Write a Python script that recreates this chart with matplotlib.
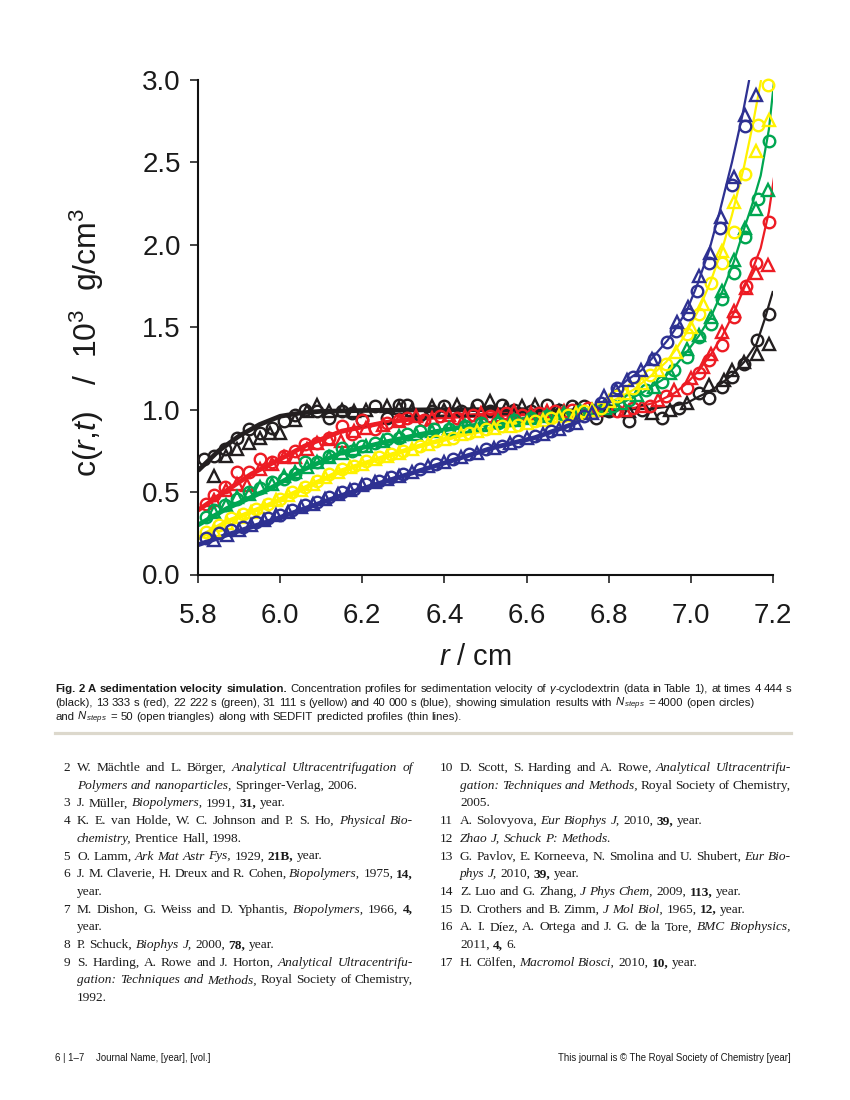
import numpy as np
import matplotlib
matplotlib.use("Agg")
import matplotlib.pyplot as plt
from matplotlib.transforms import IdentityTransform
from matplotlib.lines import Line2D

plt.rcParams['font.family'] = ['Liberation Sans', 'DejaVu Sans']
plt.rcParams['mathtext.fontset'] = 'custom'
plt.rcParams['mathtext.rm'] = 'Liberation Sans'
plt.rcParams['mathtext.it'] = 'Liberation Sans:italic'
plt.rcParams['mathtext.bf'] = 'Liberation Sans:bold'

# ---------------- data ----------------
series_labels = ['4 444 s', '13 333 s', '22 222 s', '31 111 s', '40 000 s']
series_colors = ['#231f20', '#ed1c24', '#00a651', '#fff200', '#2e3192']

# SEDFIT profiles (thin lines)
black_line_r = [5.80,5.85,5.90,5.95,6.00,6.05,6.10,6.20,6.40,6.60,6.80,6.90,6.95,6.99,7.02,7.045,7.075,7.10,7.13,7.16,7.18,7.20]
black_line_c = [0.63,0.75,0.84,0.91,0.96,0.98,0.99,0.995,1.00,1.00,1.00,1.005,1.02,1.04,1.08,1.11,1.16,1.21,1.29,1.40,1.55,1.72]
red_line_r = [5.80,5.87,5.93,6.00,6.06,6.15,6.25,6.34,6.52,6.71,6.80,6.84,6.88,6.92,6.96,6.99,7.02,7.05,7.077,7.105,7.13,7.15,7.17,7.19,7.205]
red_line_c = [0.39,0.51,0.61,0.70,0.78,0.87,0.92,0.95,0.97,0.98,0.99,1.00,1.02,1.05,1.10,1.16,1.24,1.34,1.45,1.59,1.74,1.85,1.98,2.20,2.45]
green_line_r = [5.80,5.87,5.97,6.06,6.15,6.25,6.34,6.43,6.52,6.62,6.71,6.77,6.80,6.84,6.88,6.93,6.96,6.99,7.02,7.05,7.077,7.105,7.13,7.15,7.17,7.19,7.203]
green_line_c = [0.30,0.40,0.515,0.64,0.74,0.80,0.85,0.89,0.92,0.95,0.98,0.995,1.02,1.05,1.10,1.18,1.26,1.35,1.45,1.57,1.72,1.90,2.10,2.25,2.42,2.70,3.00]
yellow_line_r = [5.80,5.87,5.97,6.06,6.15,6.25,6.34,6.43,6.52,6.62,6.71,6.77,6.80,6.86,6.91,6.94,6.965,6.99,7.02,7.05,7.077,7.10,7.13,7.15,7.171]
yellow_line_c = [0.22,0.32,0.42,0.525,0.63,0.71,0.78,0.84,0.89,0.93,0.97,0.995,1.04,1.12,1.22,1.29,1.37,1.47,1.61,1.79,1.98,2.18,2.48,2.72,3.00]
blue_line_r = [5.80,5.87,5.97,6.06,6.15,6.25,6.34,6.43,6.52,6.62,6.71,6.77,6.79,6.845,6.88,6.905,6.943,6.965,6.99,7.016,7.045,7.07,7.10,7.125,7.142]
blue_line_c = [0.18,0.24,0.32,0.40,0.48,0.56,0.63,0.70,0.77,0.83,0.91,0.99,1.06,1.18,1.24,1.31,1.42,1.50,1.60,1.76,1.97,2.20,2.50,2.78,3.00]

# N_steps = 4000 (open circles)
black_circ_r = [5.815,5.84,5.865,5.896,5.924,5.95,5.98,6.01,6.035,6.06,6.09,6.12,6.15,6.175,6.20,6.23,6.26,6.29,6.31,6.34,6.37,6.40,6.44,6.48,6.51,6.54,6.57,6.61,6.65,6.68,6.71,6.74,6.77,6.80,6.85,6.88,6.93,6.97,7.02,7.045,7.075,7.10,7.13,7.16,7.19]
black_circ_c = [0.70,0.72,0.76,0.83,0.88,0.86,0.89,0.93,0.97,1.00,0.99,0.95,0.99,0.98,0.94,1.02,0.95,1.03,1.03,0.97,0.99,1.02,0.99,1.03,0.99,1.03,1.00,0.99,1.03,1.00,1.02,1.02,0.95,0.99,0.93,1.00,0.95,1.01,1.10,1.07,1.14,1.20,1.28,1.42,1.58]
red_circ_r = [5.82,5.84,5.865,5.896,5.924,5.95,5.98,6.01,6.035,6.06,6.09,6.12,6.15,6.175,6.20,6.23,6.26,6.29,6.31,6.35,6.39,6.43,6.47,6.51,6.55,6.59,6.63,6.67,6.71,6.75,6.78,6.82,6.86,6.90,6.94,6.99,7.02,7.045,7.077,7.105,7.134,7.158,7.191]
red_circ_c = [0.43,0.48,0.53,0.62,0.62,0.70,0.68,0.72,0.75,0.79,0.80,0.83,0.90,0.85,0.94,0.88,0.92,0.94,0.95,0.94,0.96,0.95,0.97,0.96,0.98,0.97,0.98,0.99,1.00,1.01,1.01,0.99,1.01,1.02,1.08,1.13,1.22,1.30,1.39,1.56,1.75,1.89,2.14]
green_circ_r = [5.82,5.84,5.865,5.896,5.924,5.95,5.98,6.01,6.035,6.06,6.09,6.12,6.15,6.175,6.20,6.23,6.26,6.29,6.31,6.34,6.375,6.41,6.45,6.49,6.53,6.57,6.61,6.65,6.69,6.73,6.77,6.81,6.85,6.89,6.93,6.96,6.99,7.02,7.05,7.077,7.104,7.132,7.163,7.191]
green_circ_c = [0.35,0.39,0.42,0.46,0.50,0.525,0.56,0.58,0.61,0.68,0.68,0.72,0.77,0.75,0.78,0.80,0.82,0.83,0.85,0.87,0.88,0.88,0.90,0.92,0.92,0.94,0.95,0.96,0.97,0.99,1.00,1.02,1.06,1.12,1.17,1.24,1.32,1.44,1.52,1.67,1.83,2.05,2.28,2.63]
yellow_circ_r = [5.82,5.85,5.88,5.91,5.94,5.97,6.00,6.03,6.06,6.09,6.12,6.15,6.18,6.21,6.24,6.27,6.30,6.34,6.38,6.42,6.46,6.50,6.54,6.58,6.62,6.66,6.70,6.74,6.78,6.82,6.86,6.90,6.94,6.99,7.02,7.05,7.077,7.104,7.132,7.163,7.187]
yellow_circ_c = [0.26,0.30,0.34,0.37,0.40,0.43,0.46,0.50,0.53,0.57,0.61,0.64,0.66,0.69,0.71,0.73,0.75,0.78,0.81,0.83,0.86,0.88,0.90,0.91,0.93,0.95,0.97,0.99,1.01,1.08,1.13,1.21,1.28,1.46,1.58,1.77,1.89,2.08,2.43,2.73,2.97]
blue_circ_r = [5.82,5.85,5.88,5.91,5.94,5.97,6.00,6.03,6.06,6.09,6.12,6.15,6.18,6.21,6.24,6.27,6.30,6.34,6.38,6.42,6.46,6.50,6.54,6.58,6.62,6.66,6.70,6.74,6.78,6.82,6.86,6.91,6.943,6.963,6.992,7.016,7.045,7.07,7.10,7.132]
blue_circ_c = [0.22,0.25,0.27,0.29,0.32,0.34,0.36,0.39,0.42,0.44,0.47,0.50,0.52,0.55,0.57,0.59,0.61,0.64,0.67,0.70,0.73,0.76,0.78,0.81,0.84,0.87,0.91,0.96,1.04,1.13,1.20,1.31,1.41,1.48,1.58,1.72,1.89,2.10,2.36,2.72]

# N_steps = 50 (open triangles)
black_tri_r = [5.84,5.868,5.896,5.924,5.95,5.975,6.00,6.035,6.065,6.09,6.12,6.15,6.18,6.21,6.26,6.29,6.32,6.37,6.40,6.43,6.47,6.51,6.55,6.59,6.62,6.68,6.72,6.76,6.80,6.85,6.905,6.95,6.99,7.045,7.08,7.10,7.13,7.16,7.19]
black_tri_c = [0.60,0.72,0.76,0.80,0.83,0.86,0.86,0.94,0.99,1.03,0.99,1.00,0.99,1.00,1.02,1.01,1.00,1.02,1.00,1.03,1.00,1.05,1.01,1.02,1.03,0.99,1.00,1.00,1.00,0.99,0.98,1.00,1.04,1.15,1.18,1.24,1.29,1.34,1.40]
red_tri_r = [5.84,5.868,5.896,5.92,5.95,5.98,6.01,6.035,6.065,6.09,6.12,6.147,6.18,6.21,6.25,6.29,6.33,6.37,6.41,6.45,6.49,6.53,6.57,6.61,6.65,6.69,6.73,6.77,6.84,6.88,6.92,6.96,7.00,7.03,7.05,7.077,7.105,7.134,7.158,7.187]
red_tri_c = [0.45,0.51,0.55,0.54,0.64,0.67,0.71,0.71,0.76,0.80,0.82,0.81,0.87,0.89,0.91,0.93,0.96,0.95,0.97,0.96,0.98,0.97,0.99,0.98,0.99,0.99,0.99,1.00,1.00,1.02,1.06,1.12,1.19,1.26,1.34,1.47,1.60,1.74,1.83,1.88]
green_tri_r = [5.84,5.868,5.896,5.924,5.95,5.98,6.01,6.035,6.065,6.09,6.12,6.15,6.18,6.21,6.25,6.29,6.33,6.37,6.41,6.45,6.49,6.53,6.57,6.61,6.65,6.69,6.73,6.79,6.83,6.87,6.91,6.95,6.99,7.02,7.05,7.077,7.106,7.132,7.158,7.187]
green_tri_c = [0.38,0.42,0.47,0.49,0.53,0.55,0.60,0.62,0.65,0.68,0.71,0.74,0.76,0.78,0.81,0.84,0.85,0.87,0.89,0.90,0.91,0.93,0.94,0.95,0.96,0.98,0.99,1.01,1.04,1.09,1.14,1.22,1.37,1.45,1.56,1.72,1.91,2.10,2.22,2.33]
yellow_tri_r = [5.84,5.87,5.90,5.93,5.96,5.99,6.02,6.05,6.08,6.11,6.14,6.17,6.20,6.23,6.26,6.29,6.32,6.36,6.40,6.44,6.48,6.52,6.56,6.60,6.64,6.68,6.72,6.76,6.80,6.84,6.88,6.92,6.965,7.00,7.03,7.077,7.106,7.158,7.191]
yellow_tri_c = [0.27,0.31,0.35,0.38,0.41,0.45,0.48,0.51,0.55,0.59,0.62,0.65,0.67,0.70,0.72,0.74,0.76,0.79,0.82,0.85,0.87,0.89,0.90,0.92,0.94,0.96,0.98,1.00,1.05,1.10,1.16,1.24,1.35,1.50,1.64,1.96,2.26,2.57,2.76]
blue_tri_r = [5.84,5.87,5.90,5.93,5.96,5.99,6.02,6.05,6.08,6.11,6.14,6.17,6.20,6.23,6.26,6.29,6.32,6.36,6.40,6.44,6.48,6.52,6.56,6.60,6.64,6.68,6.72,6.76,6.789,6.817,6.845,6.878,6.906,6.967,6.992,7.02,7.047,7.073,7.106,7.132,7.158]
blue_tri_c = [0.21,0.24,0.27,0.30,0.33,0.36,0.38,0.41,0.43,0.46,0.49,0.51,0.54,0.56,0.58,0.60,0.62,0.66,0.68,0.71,0.74,0.77,0.80,0.83,0.85,0.88,0.92,0.98,1.08,1.12,1.18,1.24,1.31,1.53,1.62,1.81,1.95,2.17,2.41,2.79,2.91]

x_ticks = [5.8, 6.0, 6.2, 6.4, 6.6, 6.8, 7.0, 7.2]
y_ticks = [0.0, 0.5, 1.0, 1.5, 2.0, 2.5, 3.0]

lines = [(black_line_r, black_line_c), (red_line_r, red_line_c), (green_line_r, green_line_c),
         (yellow_line_r, yellow_line_c), (blue_line_r, blue_line_c)]
circs = [(black_circ_r, black_circ_c), (red_circ_r, red_circ_c), (green_circ_r, green_circ_c),
         (yellow_circ_r, yellow_circ_c), (blue_circ_r, blue_circ_c)]
tris = [(black_tri_r, black_tri_c), (red_tri_r, red_tri_c), (green_tri_r, green_tri_c),
        (yellow_tri_r, yellow_tri_c), (blue_tri_r, blue_tri_c)]

caption_lines = [
    "#Fig. 2 A sedimentation velocity simulation#. Concentration profiles for sedimentation velocity of |γ|-cyclodextrin (data in Table 1), at times 4 444 s",
    "(black), 13 333 s (red), 22 222 s (green), 31 111 s (yellow) and 40 000 s (blue), showing simulation results with $N_{\\,steps}$ = 4000 (open circles)",
    "and $N_{\\,steps}$ = 50 (open triangles) along with SEDFIT predicted profiles (thin lines).",
]

refs_left = [
    ("2", "W. Mächtle and L. Börger, |Analytical Ultracentrifugation of|", True),
    (None, "|Polymers and nanoparticles|, Springer-Verlag, 2006.", False),
    ("3", "J. Müller, |Biopolymers|, 1991, #31#, year.", False),
    ("4", "K. E. van Holde, W. C. Johnson and P. S. Ho, |Physical Bio-|", True),
    (None, "|chemistry|, Prentice Hall, 1998.", False),
    ("5", "O. Lamm, |Ark Mat Astr Fys|, 1929, #21B#, year.", False),
    ("6", "J. M. Claverie, H. Dreux and R. Cohen, |Biopolymers|, 1975, #14#,", True),
    (None, "year.", False),
    ("7", "M. Dishon, G. Weiss and D. Yphantis, |Biopolymers|, 1966, #4#,", True),
    (None, "year.", False),
    ("8", "P. Schuck, |Biophys J|, 2000, #78#, year.", False),
    ("9", "S. Harding, A. Rowe and J. Horton, |Analytical Ultracentrifu-|", True),
    (None, "|gation: Techniques and Methods|, Royal Society of Chemistry,", True),
    (None, "1992.", False),
]
refs_right = [
    ("10", "D. Scott, S. Harding and A. Rowe, |Analytical Ultracentrifu-|", True),
    (None, "|gation: Techniques and Methods|, Royal Society of Chemistry,", True),
    (None, "2005.", False),
    ("11", "A. Solovyova, |Eur Biophys J|, 2010, #39#, year.", False),
    ("12", "|Zhao J, Schuck P: Methods.|", False),
    ("13", "G. Pavlov, E. Korneeva, N. Smolina and U. Shubert, |Eur Bio-|", True),
    (None, "|phys J|, 2010, #39#, year.", False),
    ("14", "Z. Luo and G. Zhang, |J Phys Chem|, 2009, #113#, year.", False),
    ("15", "D. Crothers and B. Zimm, |J Mol Biol|, 1965, #12#, year.", False),
    ("16", "A. I. Díez, A. Ortega and J. G. de la Tore, |BMC Biophysics|,", True),
    (None, "2011, #4#, 6.", False),
    ("17", "H. Cölfen, |Macromol Biosci|, 2010, #10#, year.", False),
]

footer_left_a = "6 | 1–7"
footer_left_b = "Journal Name, [year], [vol.]"
footer_right = "This journal is © The Royal Society of Chemistry [year]"

# ---------------- figure ----------------
W, H = 850, 1100
fig = plt.figure(figsize=(8.5, 11), dpi=100)
fig.patch.set_facecolor('white')
renderer = fig.canvas.get_renderer()
ID = IdentityTransform()

ax = fig.add_axes([198 / W, (H - 574.5) / H, (773 - 198) / W, (574.5 - 80) / H])
for (lr, lc), col in zip(lines, series_colors):
    lr_a = np.array(lr); lc_a = np.array(lc)
    ax.plot(lr_a, lc_a, color=col, lw=1.6, zorder=2, solid_capstyle='butt')
    m = lr_a <= 6.78
    ax.plot(lr_a[m], lc_a[m], color=col, lw=3.4, zorder=2, solid_capstyle='butt')
for (cr, cc), (tr, tc), col in zip(circs, tris, series_colors):
    ax.plot(cr, cc, ls='none', marker='o', ms=8.3, mfc='none', mec=col, mew=1.7, clip_on=False, zorder=3)
    ax.plot(tr, tc, ls='none', marker='^', ms=8.6, mfc='none', mec=col, mew=1.7, clip_on=False, zorder=3)

ax.set_xlim(5.8, 7.2)
ax.set_ylim(0.0, 3.0)
ax.set_xticks(x_ticks)
ax.set_yticks(y_ticks)
ax.set_xticklabels([f"{v:.1f}" for v in x_ticks])
ax.set_yticklabels([f"{v:.1f}" for v in y_ticks])
for s in ['top', 'right']:
    ax.spines[s].set_visible(False)
for s in ['left', 'bottom']:
    ax.spines[s].set_linewidth(1.5)
    ax.spines[s].set_color('#111111')
ax.tick_params(axis='both', direction='out', length=5.5, width=1.1, colors='#111111', labelsize=20, labelcolor='#1a1a1a')
ax.tick_params(axis='x', pad=15)
ax.tick_params(axis='y', pad=7)
ax.patch.set_alpha(0)

fig.text(87, H - 342, "c($r$,$t$)   /  10$^{3}$  g/cm$^{3}$", transform=ID, rotation=90,
         ha='center', va='center', fontsize=23, color='#1a1a1a')
fig.text(475, H - 657, "$r$ / cm", transform=ID, ha='center', va='center', fontsize=21, color='#1a1a1a')

# ---------------- text layout helpers ----------------
PUNCT = set(',.:;')

def make_tokens(line):
    tokens = []
    ital = False
    bold = False
    for word in line.split(' '):
        if word == '':
            continue
        pieces = []
        cur = ''
        for ch in word:
            if ch in '|#':
                if cur:
                    pieces.append((cur, ital, bold))
                    cur = ''
                if ch == '|':
                    ital = not ital
                else:
                    bold = not bold
            else:
                cur += ch
        if cur:
            pieces.append((cur, ital, bold))
        merged = []
        for p in pieces:
            if merged and all(c in PUNCT for c in p[0]):
                q = merged[-1]
                merged[-1] = (q[0] + p[0], q[1], q[2])
            else:
                merged.append(p)
        if merged:
            tokens.append(merged)
    return tokens

def text_width(s, **kw):
    t = fig.text(0, 0, s, transform=ID, **kw)
    w = t.get_window_extent(renderer).width
    t.remove()
    return w

def adv_width(s, **kw):
    if '$' in s:
        return text_width(s, **kw)
    return text_width('I' + s + 'I', **kw) - text_width('II', **kw)

def draw_line(x0, ybase, line, family, size, color, width=None, draw=True):
    tokens = make_tokens(line)
    kw0 = dict(family=family, fontsize=size, color=color)
    em = size * 100 / 72.0
    space = text_width('I I', **kw0) - text_width('II', **kw0)
    widths = []
    for tok in tokens:
        tw = []
        for j, (s, it, bd) in enumerate(tok):
            skw = dict(fontstyle='italic' if it else 'normal', fontweight='bold' if bd else 'normal', **kw0)
            w = adv_width(s, **skw)
            if j < len(tok) - 1:
                ink = text_width(s, **skw)
                w = max(w - (0.16 if it else 0.10) * em, ink + 0.4)
            tw.append(w)
        widths.append(tw)
    total = sum(sum(w) for w in widths)
    gap = space
    if width is not None and len(tokens) > 1:
        gap = (width - total) / (len(tokens) - 1)
    if not draw:
        return total + space * (len(tokens) - 1)
    x = x0
    for tok, tw in zip(tokens, widths):
        for (s, it, bd), w in zip(tok, tw):
            fig.text(x, H - ybase, s, transform=ID, ha='left', va='baseline',
                     fontstyle='italic' if it else 'normal', fontweight='bold' if bd else 'normal', **kw0)
            x += w
        x += gap
    return x - gap

SANS = ['Liberation Sans', 'DejaVu Sans']
SERIF = ['Liberation Serif', 'DejaVu Serif']

# caption
cap_size = 7.6
w1 = draw_line(55, 0, caption_lines[0], SANS, cap_size, 'k', draw=False)
cap_size = cap_size * (783 - 55) / w1
for i, ln in enumerate(caption_lines):
    draw_line(55, 692.5 + 14 * i, ln, SANS, cap_size, '#1a1a1a')

fig.add_artist(Line2D([55, 791], [H - 733, H - 733], transform=ID, color='#dcd8cc', lw=2.3))

# references
ref_size = 9.6
y0 = 771
dy = 17.7
for col_refs, num_right, txt_left, txt_right in [(refs_left, 70, 77, 413), (refs_right, 453, 460, 791)]:
    for i, (num, ln, just) in enumerate(col_refs):
        yb = y0 + dy * i
        if num is not None:
            fig.text(num_right, H - yb, num, transform=ID, ha='right', va='baseline',
                     family=SERIF, fontsize=ref_size, color='#1a1a1a')
        draw_line(txt_left, yb, ln, SERIF, ref_size, '#1a1a1a', width=(txt_right - txt_left) if just else None)

# footer
fsz = 6.9
fw = text_width(footer_right, family=SANS, fontsize=fsz)
fsz = fsz * (791 - 556) / fw
fig.text(55, H - 1061, footer_left_a, transform=ID, ha='left', va='baseline', family=SANS, fontsize=fsz, color='#1a1a1a')
fig.text(96, H - 1061, footer_left_b, transform=ID, ha='left', va='baseline', family=SANS, fontsize=fsz, color='#1a1a1a')
fig.text(791, H - 1061, footer_right, transform=ID, ha='right', va='baseline', family=SANS, fontsize=fsz, color='#1a1a1a')

fig.savefig('out.png', dpi=100, facecolor='white')
